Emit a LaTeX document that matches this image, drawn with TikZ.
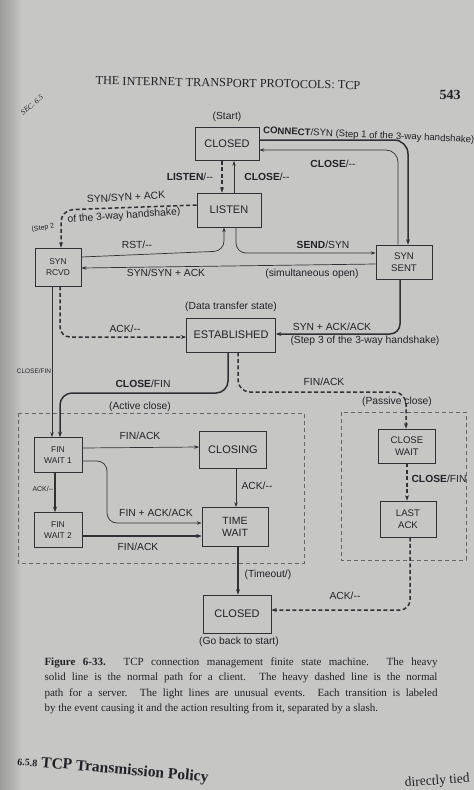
\documentclass[tikz,border=0pt]{standalone}
\usepackage{fontspec}
\setmainfont{Liberation Serif}
\newfontfamily\lab{Liberation Sans}
\usetikzlibrary{arrows.meta,calc}
\definecolor{bg}{RGB}{198,198,196}
\definecolor{ink}{RGB}{34,34,40}
\definecolor{linec}{RGB}{48,48,54}
\definecolor{regc}{RGB}{100,100,106}
\definecolor{edgec}{RGB}{155,155,155}
\begin{document}
\begin{tikzpicture}[x=1pt,y=-1pt,
  st/.style={draw=linec, line width=0.7pt, fill=bg, inner sep=0pt, align=center, text=ink},
  big/.style={st, font=\lab\fontsize{11}{13}\selectfont},
  mid/.style={st, font=\lab\fontsize{9.6}{11.5}\selectfont},
  sml/.style={st, font=\lab\fontsize{8.4}{10.5}\selectfont},
  lbl/.style={font=\lab\fontsize{10.3}{12}\selectfont, text=ink, inner sep=0pt},
  tiny/.style={font=\lab\fontsize{6.5}{8}\selectfont, text=ink, inner sep=0pt},
  heavy/.style={draw=linec, line width=1.5pt, -{Stealth[length=5.5pt,width=4pt]}},
  hdash/.style={heavy, dash pattern=on 4pt off 2.5pt},
  light/.style={draw=linec, line width=0.7pt, -{Stealth[length=5pt,width=3.4pt]}},
  region/.style={draw=regc, line width=0.55pt, dash pattern=on 4pt off 3pt}]
\fill[bg] (0,0) rectangle (474,790);
\useasboundingbox (0,0) rectangle (474,790);
\shade[left color=edgec, right color=bg] (0,0) rectangle (22,790);

% page header
\node[font=\fontsize{12.3}{14}\selectfont, text=ink, rotate=-1] (hdr) at (228,83) {THE INTERNET TRANSPORT PROTOCOLS: TCP};
\node[font=\bfseries\fontsize{14}{16}\selectfont, text=ink] (pg) at (450,95) {543};
\node[font=\itshape\fontsize{7.5}{9}\selectfont, text=ink, rotate=40] (sec) at (32,105) {SEC.~6.5};

% regions
\draw[region] (18,413) rectangle (304,563);
\draw[region] (341,412) rectangle (466,560);

% states
\node[big, minimum width=64pt, minimum height=33pt] (closedA) at (227,144) {CLOSED};
\node[big, minimum width=64pt, minimum height=34pt] (listen) at (229,210) {LISTEN};
\node[sml, minimum width=46pt, minimum height=38pt] (synrcvd) at (58,267) {SYN\\RCVD};
\node[mid, minimum width=56pt, minimum height=34pt] (synsent) at (404,262) {SYN\\SENT};
\node[big, minimum width=89pt, minimum height=34pt] (established) at (231,335) {ESTABLISHED};
\node[sml, minimum width=48pt, minimum height=35pt] (finwait1) at (58,455) {FIN\\WAIT 1};
\node[big, minimum width=67pt, minimum height=37pt] (closing) at (233,450) {CLOSING};
\node[sml, minimum width=48pt, minimum height=35pt] (finwait2) at (58,530) {FIN\\WAIT 2};
\node[st, font=\lab\fontsize{10.5}{12.5}\selectfont, minimum width=66pt, minimum height=39pt] (timewait) at (235,527) {TIME\\WAIT};
\node[mid, minimum width=57pt, minimum height=34pt] (closewait) at (407,446) {CLOSE\\WAIT};
\node[mid, minimum width=56pt, minimum height=36pt] (lastack) at (408,519) {LAST\\ACK};
\node[big, minimum width=68pt, minimum height=38pt] (closedB) at (237,614) {CLOSED};

% transitions
\draw[heavy, rounded corners=14pt] (closedA.east |- 0,140) -- (408,140) -- (408,0 |- synsent.north);
\draw[light, rounded corners=12pt] (398,0 |- synsent.north) -- (398,150) -- (closedA.east |- 0,150);
\draw[hdash] (222,0 |- closedA.south) -- (222,0 |- listen.north);
\draw[light] (234,0 |- listen.north) -- (234,0 |- closedA.south);
\draw[hdash, rounded corners=12pt] (listen.west |- 0,205) -- (61,210) -- (61,0 |- synrcvd.north);
\draw[light, rounded corners=10pt] (synrcvd.east |- 0,257) -- (224,251) -- (224,0 |- listen.south);
\draw[light, rounded corners=10pt] (236,0 |- listen.south) -- (236,253) -- (synsent.west |- 0,253);
\draw[light] (synsent.west |- 0,264) -- (synrcvd.east |- 0,268);
\draw[hdash, rounded corners=10pt] (60,0 |- synrcvd.south) -- (60,337) -- (established.west |- 0,337);
\draw[heavy, rounded corners=10pt] (400,0 |- synsent.south) -- (400,334) -- (established.east |- 0,334);
\draw[light] (52,0 |- synrcvd.south) -- (52,0 |- finwait1.north);
\draw[heavy, rounded corners=12pt] (228,0 |- established.south) -- (228,393) -- (60,393) -- (60,0 |- finwait1.north);
\draw[hdash, rounded corners=12pt] (238,0 |- established.south) -- (238,392) -- (406,392) -- (406,0 |- closewait.north);
\draw[light] (finwait1.east |- 0,448) -- (closing.west |- 0,447);
\draw[light, rounded corners=10pt] (finwait1.east |- 0,461) -- (107,461) -- (107,523) -- (timewait.west |- 0,523);
\draw[heavy] (55,0 |- finwait1.south) -- (55,0 |- finwait2.north);
\draw[heavy] (finwait2.east |- 0,536) -- (timewait.west |- 0,536);
\draw[light] (236,0 |- closing.south) -- (236,0 |- timewait.north);
\draw[heavy] (238,0 |- timewait.south) -- (238,0 |- closedB.north);
\draw[hdash] (407,0 |- closewait.south) -- (407,0 |- lastack.north);
\draw[hdash, rounded corners=10pt] (410,0 |- lastack.south) -- (410,610) -- (closedB.east |- 0,610);

% labels
\node[lbl] (tstart) at (227,117) {(Start)};
\node[lbl, font=\lab\fontsize{9.6}{12}\selectfont, anchor=west, rotate=-2.5] (tconn) at (263,131) {\textbf{CONNECT}/SYN (Step 1 of the 3-way handshake)};
\node[lbl] (tclose1) at (333,164) {\textbf{CLOSE}/--};
\node[lbl] (tlisten) at (190,177) {\textbf{LISTEN}/--};
\node[lbl] (tclose2) at (267,177) {\textbf{CLOSE}/--};
\node[lbl, rotate=3] (tsyn1) at (126,197) {SYN/SYN + ACK};
\node[lbl, rotate=4] (tstep2b) at (124,216) {of the 3-way handshake)};
\node[tiny, font=\lab\fontsize{7}{8}\selectfont, rotate=10] (tstep2a) at (43,228) {(Step 2};
\node[lbl] (trst) at (137,245) {RST/--};
\node[lbl] (tsend) at (323,245) {\textbf{SEND}/SYN};
\node[lbl] (tsyn2) at (166,273) {SYN/SYN + ACK};
\node[lbl] (tsim) at (312,274) {(simultaneous open)};
\node[lbl] (tdata) at (231,307) {(Data transfer state)};
\node[lbl] (tack1) at (125,329) {ACK/--};
\node[lbl] (tsynack) at (332,327) {SYN + ACK/ACK};
\node[lbl] (tstep3) at (365,341) {(Step 3 of the 3-way handshake)};
\node[tiny] (tclfin1) at (34,371) {CLOSE/FIN};
\node[lbl] (tclfin2) at (143,384) {\textbf{CLOSE}/FIN};
\node[lbl] (tfinack1) at (324,382) {FIN/ACK};
\node[lbl] (tactive) at (140,407) {(Active close)};
\node[lbl] (tpassive) at (397,402) {(Passive close)};
\node[lbl] (tfinack2) at (140,436) {FIN/ACK};
\node[lbl] (tfinackack) at (156,513) {FIN + ACK/ACK};
\node[tiny, font=\lab\fontsize{7}{8}\selectfont] (tack2) at (43,489) {ACK/--};
\node[lbl] (tfinack3) at (138,547) {FIN/ACK};
\node[lbl] (tack3) at (257,486) {ACK/--};
\node[lbl] (tclfin3) at (439,479) {\textbf{CLOSE}/FIN};
\node[lbl] (ttimeout) at (268,575) {(Timeout/)};
\node[lbl] (tack4) at (345,596) {ACK/--};
\node[lbl] (tback) at (239,642) {(Go back to start)};

% caption
\node[font=\fontsize{11}{15.5}\selectfont, text=ink, align=left, inner sep=0pt] (cap) at (241,686) {%
\makebox[393pt][s]{\textbf{Figure 6-33.} TCP connection management finite state machine. The heavy}\\
\makebox[393pt][s]{solid line is the normal path for a client. The heavy dashed line is the normal}\\
\makebox[393pt][s]{path for a server. The light lines are unusual events. Each transition is labeled}\\
by the event causing it and the action resulting from it, separated by a slash.};

% next section
\node[font=\bfseries\fontsize{15.5}{18}\selectfont, text=ink, anchor=base west, rotate=-5, inner sep=0pt] (sect) at (17,765) {{\fontsize{10}{12}\selectfont 6.5.8} TCP Transmission Policy};
\node[font=\fontsize{13.5}{16}\selectfont, text=ink, anchor=base west, rotate=4, inner sep=0pt] (tied) at (405,787) {directly tied};
\end{tikzpicture}
\end{document}
